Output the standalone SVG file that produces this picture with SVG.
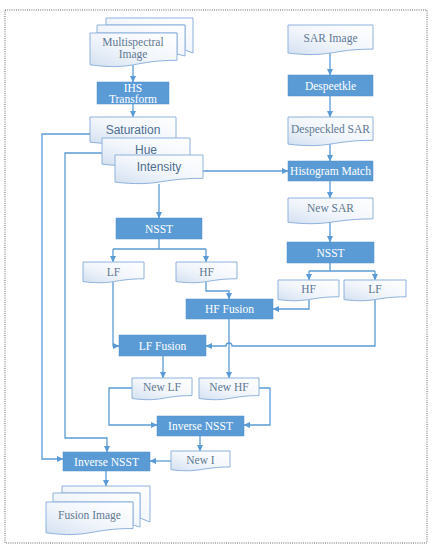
<svg xmlns="http://www.w3.org/2000/svg" width="432" height="550" viewBox="0 0 432 550">
<defs>
<linearGradient id="dg" x1="1" y1="0" x2="0" y2="1">
<stop offset="0" stop-color="#ffffff"/>
<stop offset="0.55" stop-color="#f1f5fb"/>
<stop offset="1" stop-color="#d3e0f1"/>
</linearGradient>
<marker id="ah" markerUnits="userSpaceOnUse" markerWidth="7" markerHeight="7" refX="6" refY="3.5" orient="auto">
<path d="M0,0.5 L6.5,3.5 L0,6.5 Z" fill="#5b9bd5"/>
</marker>
<style>
.doc{fill:url(#dg);stroke:#8fb2dc;stroke-width:1}
.box{fill:#5b9bd5;stroke:#4f8fcb;stroke-width:0.5}
.bt{font-family:"Liberation Serif",serif;font-size:11.5px;fill:#ffffff;text-anchor:middle}
.dt{font-family:"Liberation Serif",serif;font-size:11.5px;fill:#5f7893;text-anchor:middle}
.st{font-family:"Liberation Sans",sans-serif;font-size:12px;fill:#4e6e90;text-anchor:middle}
.c{fill:none;stroke:#5b9bd5;stroke-width:1.3}
.ca{fill:none;stroke:#5b9bd5;stroke-width:1.3;marker-end:url(#ah)}
</style>
</defs>
<rect x="5" y="10" width="422" height="533" fill="none" stroke="#666" stroke-width="1" stroke-dasharray="1,1.2"/>

<g id="connectors">
<path class="ca" d="M133,65 V82"/>
<path class="ca" d="M133,104 V117"/>
<path class="ca" d="M90,134 H42 V459 H63"/>
<path class="ca" d="M102,153 H65 V438 H107 V452"/>
<path class="ca" d="M203,171 H288"/>
<path class="ca" d="M159,184 V218"/>
<path class="c" d="M159,239 V249 M113,249 H206"/>
<path class="ca" d="M113,249 V262"/>
<path class="ca" d="M206,249 V262"/>
<path class="ca" d="M113,282 V346 H119"/>
<path class="ca" d="M206,282 V291 H229 V299"/>
<path class="ca" d="M330,53 V75"/>
<path class="ca" d="M330,96 V117"/>
<path class="ca" d="M330,144 V161"/>
<path class="ca" d="M330,181 V198"/>
<path class="ca" d="M330,222 V242"/>
<path class="c" d="M330,263 V271 M309,271 H375"/>
<path class="ca" d="M309,271 V280"/>
<path class="ca" d="M375,271 V280"/>
<path class="ca" d="M309,300 V309 H273"/>
<path class="ca" d="M375,300 V346 H232 A3,3 0 0 0 226,346 H206"/>
<path class="ca" d="M229,319 V378"/>
<path class="ca" d="M163,356 V378"/>
<path class="ca" d="M132,388 H109 V425 H157"/>
<path class="ca" d="M259,388 H270 V425 H244"/>
<path class="ca" d="M200,436 V451"/>
<path class="ca" d="M171,461 H150"/>
<path class="ca" d="M106,471 V486"/>
</g>

<g id="multispectral">
<path class="doc" d="M106,25 V18 H193 V53 L185,50 L185,25 Z"/>
<path class="doc" d="M97,33 V25 H185 V56 L177,54 L177,33 Z"/>
<path class="doc" d="M90,33 H177 V60.3 C133.5,60.3 133.5,70.7 90,64.8 Z"/>
<text class="dt" x="133" y="45.5">Multispectral</text>
<text class="dt" x="133" y="57.5">Image</text>
</g>
<g id="ihs">
<rect class="box" x="97" y="82" width="72" height="22"/>
<text class="bt" x="133" y="91.5">IHS</text>
<text class="bt" x="133" y="103.3">Transform</text>
</g>
<g id="saturation">
<path class="doc" d="M90,117 H176 V138.7 C133,138.7 133,146.9 90,142.2 Z"/>
<text class="st" x="133" y="134">Saturation</text>
</g>
<g id="hue">
<path class="doc" d="M102,138 H190 V160.5 C146,160.5 146,169 102,164.2 Z"/>
<text class="st" x="146" y="154">Hue</text>
</g>
<g id="intensity">
<path class="doc" d="M115,155 H203 V178.3 C159,178.3 159,187.1 115,182.1 Z"/>
<text class="st" x="159" y="171">Intensity</text>
</g>
<g id="nsst-left">
<rect class="box" x="116" y="218" width="86" height="21"/>
<text class="bt" x="159" y="232.5">NSST</text>
</g>
<g id="lf-left">
<path class="doc" d="M83,262 H144 V278.8 C113.5,278.8 113.5,285.3 83,281.6 Z"/>
<text class="dt" x="113.5" y="276">LF</text>
</g>
<g id="hf-left">
<path class="doc" d="M176,262 H237 V278.8 C206.5,278.8 206.5,285.3 176,281.6 Z"/>
<text class="dt" x="206.5" y="276">HF</text>
</g>
<g id="sar-image">
<path class="doc" d="M288,25 H373 V49.1 C330.5,49.1 330.5,58.2 288,53 Z"/>
<text class="dt" x="330.5" y="42">SAR Image</text>
</g>
<g id="despeckle">
<rect class="box" x="288" y="75" width="85" height="21"/>
<text class="bt" x="330.5" y="90">Despeetkle</text>
</g>
<g id="despeckled-sar">
<path class="doc" d="M288,117 H373 V140.3 C330.5,140.3 330.5,149.1 288,144.1 Z"/>
<text class="dt" x="330.5" y="133">Despeckled SAR</text>
</g>
<g id="histogram-match">
<rect class="box" x="288" y="161" width="85" height="20"/>
<text class="bt" x="330.5" y="175">Histogram Match</text>
</g>
<g id="new-sar">
<path class="doc" d="M288,198 H373 V218.9 C330.5,218.9 330.5,226.8 288,222.3 Z"/>
<text class="dt" x="330.5" y="212">New SAR</text>
</g>
<g id="nsst-right">
<rect class="box" x="287" y="242" width="87" height="21"/>
<text class="bt" x="330.5" y="256.5">NSST</text>
</g>
<g id="hf-right">
<path class="doc" d="M278,280 H339 V296.8 C308.5,296.8 308.5,303.3 278,299.6 Z"/>
<text class="dt" x="308.5" y="293">HF</text>
</g>
<g id="lf-right">
<path class="doc" d="M344,280 H406 V296.8 C375,296.8 375,303.3 344,299.6 Z"/>
<text class="dt" x="375" y="293">LF</text>
</g>
<g id="hf-fusion">
<rect class="box" x="186" y="299" width="87" height="20"/>
<text class="bt" x="229.5" y="313">HF Fusion</text>
</g>
<g id="lf-fusion">
<rect class="box" x="119" y="335" width="87" height="21"/>
<text class="bt" x="162.5" y="349.5">LF Fusion</text>
</g>
<g id="new-lf">
<path class="doc" d="M132,378 H192 V395.6 C162,395.6 162,402.4 132,398.5 Z"/>
<text class="dt" x="162" y="391">New LF</text>
</g>
<g id="new-hf">
<path class="doc" d="M199,378 H259 V395.6 C229,395.6 229,402.4 199,398.5 Z"/>
<text class="dt" x="229" y="391">New HF</text>
</g>
<g id="inverse-nsst-mid">
<rect class="box" x="157" y="416" width="87" height="20"/>
<text class="bt" x="200.5" y="430">Inverse NSST</text>
</g>
<g id="new-i">
<path class="doc" d="M171,451 H230 V467 C200.5,467 200.5,473.2 171,469.7 Z"/>
<text class="dt" x="200.5" y="463.5">New I</text>
</g>
<g id="inverse-nsst-left">
<rect class="box" x="63" y="452" width="87" height="19"/>
<text class="bt" x="106.5" y="465.5">Inverse NSST</text>
</g>
<g id="fusion-image">
<path class="doc" d="M62,493 V486 H150 V522 L140,518 L140,493 Z"/>
<path class="doc" d="M53,502 V493 H140 V527 L133,525 L133,502 Z"/>
<path class="doc" d="M46,502 H133 V528.5 C89.5,528.5 89.5,538.5 46,532.8 Z"/>
<text class="dt" x="89.5" y="519">Fusion Image</text>
</g>
</svg>
